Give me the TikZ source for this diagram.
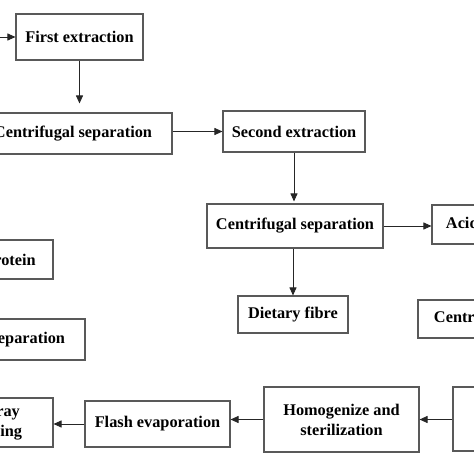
\documentclass[tikz,border=0pt]{standalone}
\usepackage{fontspec}
\setmainfont{Liberation Serif}
\usetikzlibrary{arrows.meta}
\tikzset{stage/.style={draw=black!65,line width=1.1pt,inner sep=0pt,align=center,
    font=\bfseries\fontsize{16.3}{20}\selectfont},
  flow/.style={draw=black!85,line width=0.9pt,-{Triangle[length=8pt,width=7pt]}}}

\begin{document}
\begin{tikzpicture}[x=1pt,y=-1pt]
\useasboundingbox (0,0) rectangle (474,474);
\clip (0,0) rectangle (474,474);
\fill[white] (0,0) rectangle (474,474);
       \coordinate (in) at (-10,37);
       \node [stage,minimum width=127pt,minimum height=46pt] at (79.5,37) (first) {First extraction};
          \node [stage,minimum width=198pt,minimum height=41pt] at (73,133.5) (cent a) {Centrifugal separation};
             \node [stage,minimum width=142pt,minimum height=41pt] at (294,131.5) (second) {Second extraction};
                \node [stage,minimum width=176pt,minimum height=44pt] at (295,226) (cent b) {Centrifugal separation};
                   \node [stage,minimum width=154pt,minimum height=39pt] at (509,224.5) (acid) {Acid precipitation};
                \node [stage,minimum width=110pt,minimum height=37pt] at (293,314.5) (fibre) {Dietary fibre};
                   \node [stage,minimum width=190pt,minimum height=38pt] at (513,319) (cent c) {Centrifugal separation};
        \node [stage,minimum width=86pt,minimum height=39pt] at (10,259.5) (protein) {Protein};
        \node [stage,minimum width=198pt,minimum height=41pt] at (-14,339.5) (cent d) {Centrifugal separation};
                      \node [stage,minimum width=150pt,minimum height=64pt] at (528,419) (neutral) {Neutralization};
                \node [stage,minimum width=155pt,minimum height=65pt] at (341.5,419.5) (homog) {Homogenize and\\ sterilization};
          \node [stage,minimum width=145pt,minimum height=46pt] at (157.5,424) (flash) {Flash evaporation};
        \node [stage,minimum width=108pt,minimum height=49pt] at (-1,422.5) (spray) {Spray\\ drying};
%
%
\path[flow] (in) -- (first.west);
\path[flow,shorten >=9pt] (first.south) -- (first.south |- cent a.north);
\path[flow] (cent a.east |- second) -- (second.west);
\path[flow,shorten >=2pt] (second.south) -- (second.south |- cent b.north);
\path[flow] (cent b.east) -- (cent b.east -| acid.west);
\path[flow] (cent b.south -| fibre) -- (fibre.north);
\path[flow] (neutral.west |- homog) -- (homog.east);
\path[flow] (homog.west) -- (homog.west -| flash.east);
\path[flow] (flash.west) -- (flash.west -| spray.east);

\end{tikzpicture}
\end{document}
